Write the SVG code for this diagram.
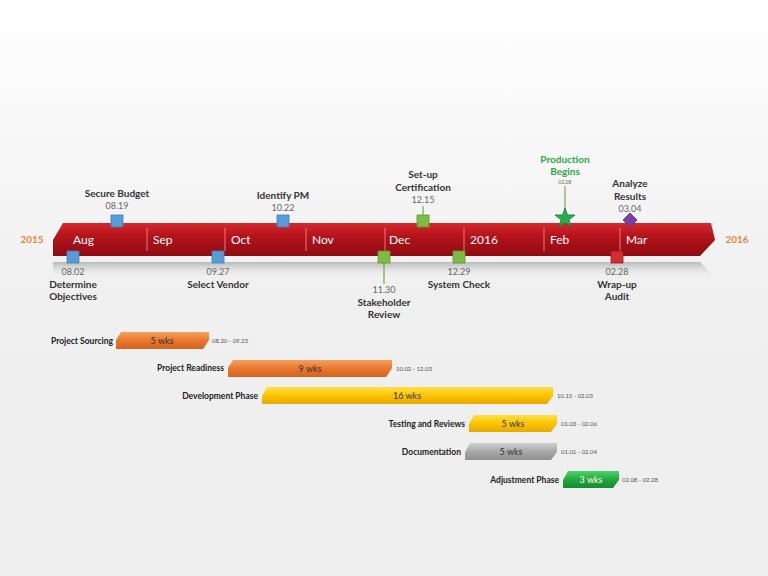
<svg xmlns="http://www.w3.org/2000/svg" width="768" height="576" viewBox="0 0 768 576">
<defs>
<linearGradient id="bg" x1="0" y1="0" x2="0" y2="1"><stop offset="0" stop-color="#ffffff"/><stop offset="0.5" stop-color="#f0f0f0"/><stop offset="1" stop-color="#eeeeee"/></linearGradient>
<linearGradient id="red" x1="0" y1="0" x2="0" y2="1"><stop offset="0" stop-color="#d42a2e"/><stop offset="0.4" stop-color="#b5121b"/><stop offset="1" stop-color="#8e0c12"/></linearGradient>
<linearGradient id="sh" x1="0" y1="0" x2="0" y2="1"><stop offset="0" stop-color="#b8b8b8"/><stop offset="1" stop-color="#f0f0f0" stop-opacity="0"/></linearGradient>
<linearGradient id="or" x1="0" y1="0" x2="0" y2="1"><stop offset="0" stop-color="#f5a15e"/><stop offset="0.5" stop-color="#e8772e"/><stop offset="1" stop-color="#d4651f"/></linearGradient>
<linearGradient id="ye" x1="0" y1="0" x2="0" y2="1"><stop offset="0" stop-color="#ffe14a"/><stop offset="0.5" stop-color="#fbc400"/><stop offset="1" stop-color="#e8a800"/></linearGradient>
<linearGradient id="gy" x1="0" y1="0" x2="0" y2="1"><stop offset="0" stop-color="#d0d0d0"/><stop offset="0.5" stop-color="#a8a8a8"/><stop offset="1" stop-color="#909090"/></linearGradient>
<linearGradient id="gr" x1="0" y1="0" x2="0" y2="1"><stop offset="0" stop-color="#4cd46a"/><stop offset="0.5" stop-color="#22a83e"/><stop offset="1" stop-color="#168a2e"/></linearGradient>
</defs>
<style>
text{font-family:Lato,"Liberation Sans",sans-serif}
.lb{font-size:10px;font-weight:bold;fill:#333;text-anchor:middle}
.dt{font-size:9px;fill:#666;text-anchor:middle}
.mo{font-size:12px;fill:#fff}
.yr{font-size:10px;font-weight:bold;fill:#e8853a;text-anchor:middle}
.gl{font-size:8.5px;font-weight:bold;fill:#222;text-anchor:end}
.gd{font-size:6px;fill:#555}
.bt{font-size:9px;fill:#333;text-anchor:middle}
.div{stroke:#e87a7a;stroke-width:1}
.blue{fill:#5b9bd5;stroke:#3d7fbf;stroke-width:0.8}
.grn{fill:#7dbb42;stroke:#5b9a2a;stroke-width:0.8}
.stem{stroke:#5b9a2a;stroke-width:1}
</style>
<rect width="768" height="576" fill="url(#bg)"/>
<g id="timeline">
<polygon points="53,262 700,262 715,278 53,278" fill="url(#sh)"/>
<polygon points="63,223 711,223 715,240 700,256 53,256 53,240" fill="url(#red)"/>
<line class="div" x1="147" y1="228" x2="147" y2="251"/>
<line class="div" x1="225" y1="228" x2="225" y2="251"/>
<line class="div" x1="306" y1="228" x2="306" y2="251"/>
<line class="div" x1="385" y1="228" x2="385" y2="251"/>
<line class="div" x1="464" y1="228" x2="464" y2="251"/>
<line class="div" x1="544" y1="228" x2="544" y2="251"/>
<line class="div" x1="620" y1="228" x2="620" y2="251"/>
<text class="mo" x="73" y="244">Aug</text><text class="mo" x="153" y="244">Sep</text><text class="mo" x="231" y="244">Oct</text><text class="mo" x="312" y="244">Nov</text><text class="mo" x="389" y="244">Dec</text><text class="mo" x="470" y="244">2016</text><text class="mo" x="550" y="244">Feb</text><text class="mo" x="626" y="244">Mar</text>
<text class="yr" x="32" y="243">2015</text><text class="yr" x="737" y="243">2016</text>
</g>
<g id="connectors">
<line class="stem" x1="423" y1="206" x2="423" y2="215"/>
<line class="stem" x1="565" y1="186" x2="565" y2="212" stroke="#1f9e3a"/>
<line class="stem" x1="384" y1="263" x2="384" y2="284"/>
</g>
<g id="m-secure"><rect class="blue" x="111" y="215" width="12" height="12"/><text class="lb" x="117" y="197">Secure Budget</text><text class="dt" x="117" y="209">08.19</text></g>
<g id="m-pm"><rect class="blue" x="277" y="215" width="12" height="12"/><text class="lb" x="283" y="199">Identify PM</text><text class="dt" x="283" y="211">10.22</text></g>
<g id="m-cert"><rect class="grn" x="417" y="215" width="12" height="12"/><text class="lb" x="423" y="178">Set-up</text><text class="lb" x="423" y="191">Certification</text><text class="dt" x="423" y="203">12.15</text></g>
<g id="m-prod"><polygon points="565,208 567.5,215 575,215 569,219.5 571,227 565,222.5 559,227 561,219.5 555,215 562.5,215" fill="#22b04a" stroke="#137a2e" stroke-width="0.8"/><text class="lb" x="565" y="163" style="fill:#2aa84a">Production</text><text class="lb" x="565" y="175" style="fill:#2aa84a">Begins</text><text class="dt" x="565" y="184" style="font-size:5px">02.08</text></g>
<g id="m-analyze"><polygon points="630,213 637,220 630,227 623,220" fill="#7b3fa8" stroke="#5a2a80" stroke-width="0.8"/><text class="lb" x="630" y="187">Analyze</text><text class="lb" x="630" y="200">Results</text><text class="dt" x="630" y="212">03.04</text></g>
<g id="m-obj"><rect class="blue" x="67" y="251" width="12" height="12"/><text class="dt" x="73" y="275">08.02</text><text class="lb" x="73" y="288">Determine</text><text class="lb" x="73" y="300">Objectives</text></g>
<g id="m-vendor"><rect class="blue" x="212" y="251" width="12" height="12"/><text class="dt" x="218" y="275">09.27</text><text class="lb" x="218" y="288">Select Vendor</text></g>
<g id="m-stake"><rect class="grn" x="378" y="251" width="12" height="12"/><text class="dt" x="384" y="293">11.30</text><text class="lb" x="384" y="306">Stakeholder</text><text class="lb" x="384" y="318">Review</text></g>
<g id="m-sys"><rect class="grn" x="453" y="251" width="12" height="12"/><text class="dt" x="459" y="275">12.29</text><text class="lb" x="459" y="288">System Check</text></g>
<g id="m-wrap"><rect x="611" y="251" width="12" height="12" fill="#d42e2e" stroke="#a01818" stroke-width="0.8"/><text class="dt" x="617" y="275">02.28</text><text class="lb" x="617" y="288">Wrap-up</text><text class="lb" x="617" y="300">Audit</text></g>
<g id="g-sourcing"><polygon points="121,332 209,332 209,340 203,349 116,349 116,340" fill="url(#or)"/><text class="bt" x="162" y="344">5 wks</text><text class="gl" x="113" y="344">Project Sourcing</text><text class="gd" x="212" y="343">08.20 - 09.23</text></g>
<g id="g-readiness"><polygon points="233,360 392,360 392,368 386,377 228,377 228,368" fill="url(#or)"/><text class="bt" x="310" y="372">9 wks</text><text class="gl" x="224" y="371">Project Readiness</text><text class="gd" x="396" y="371">10.02 - 12.03</text></g>
<g id="g-dev"><polygon points="267,387 553,387 553,396 547,404 262,404 262,396" fill="url(#ye)"/><text class="bt" x="407" y="399">16 wks</text><text class="gl" x="258" y="399">Development Phase</text><text class="gd" x="557" y="398">10.15 - 02.03</text></g>
<g id="g-test"><polygon points="474,415 557,415 557,424 551,432 469,432 469,424" fill="url(#ye)"/><text class="bt" x="513" y="427">5 wks</text><text class="gl" x="465" y="427">Testing and Reviews</text><text class="gd" x="561" y="426">01.03 - 02.06</text></g>
<g id="g-doc"><polygon points="470,443 557,443 557,452 551,460 465,460 465,452" fill="url(#gy)"/><text class="bt" x="511" y="455">5 wks</text><text class="gl" x="461" y="455">Documentation</text><text class="gd" x="561" y="454">01.01 - 02.04</text></g>
<g id="g-adj"><polygon points="568,471 619,471 619,480 613,488 563,488 563,480" fill="url(#gr)"/><text class="bt" x="591" y="483" style="fill:#fff">3 wks</text><text class="gl" x="559" y="483">Adjustment Phase</text><text class="gd" x="622" y="482">02.08 - 02.28</text></g>
</svg>
